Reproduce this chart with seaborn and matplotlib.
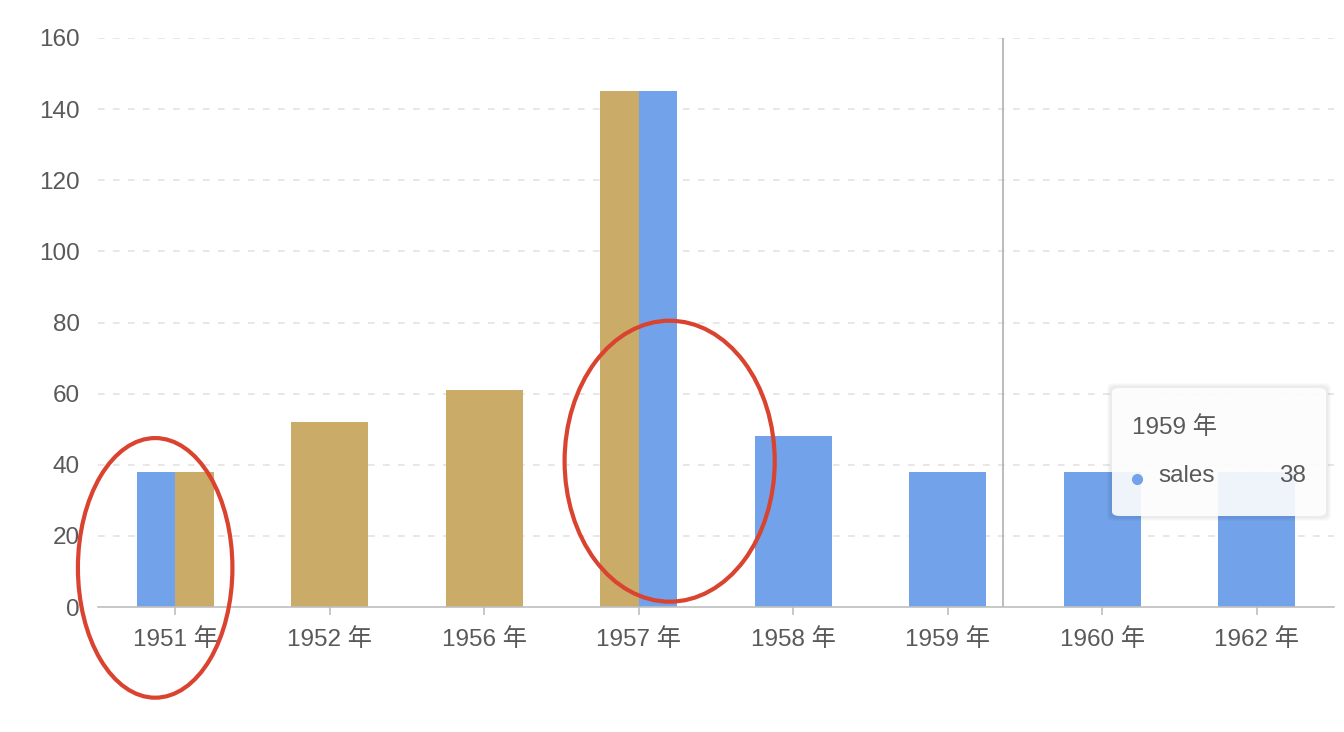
import numpy as np
import pandas as pd
import seaborn as sns
import matplotlib.pyplot as plt
from matplotlib.patches import Ellipse, FancyBboxPatch
from matplotlib.lines import Line2D

# chart data
years = ["1951 年", "1952 年", "1956 年", "1957 年", "1958 年", "1959 年", "1960 年", "1962 年"]
sales = [38, np.nan, np.nan, 145, 48, 38, 38, 38]
other = [38, 52, 61, 145, np.nan, np.nan, np.nan, np.nan]
series_names = ["sales", "other"]
colors = {"sales": "#72A2EA", "other": "#CAAC68"}

# years where both series show up are split (note the swapped order)
split_orders = {"1951 年": ["sales", "other"], "1957 年": ["other", "sales"]}
tooltip_idx = 5
cursor_x = 5.36

df = pd.DataFrame({"year": years * 2,
                   "series": ["sales"] * len(years) + ["other"] * len(years),
                   "value": sales + other}).dropna()

sns.set_theme(style="white")
plt.rcParams["font.family"] = ["Liberation Sans", "Noto Sans CJK SC", "DejaVu Sans"]
text_col = "#595959"
line_col = "#BFBFBF"

fig = plt.figure(figsize=(13.44, 7.32), dpi=100)
ax = fig.add_axes([98 / 1344, 125 / 732, 1236 / 1344, 569 / 732])

single = df[~df["year"].isin(split_orders.keys())]
sns.barplot(data=single, x="year", y="value", hue="series", order=years,
            hue_order=series_names, palette=colors, dodge=False, width=0.5,
            saturation=1, legend=False, linewidth=0, ax=ax)
for yr, h_order in split_orders.items():
    sns.barplot(data=df[df["year"] == yr], x="year", y="value", hue="series",
                order=years, hue_order=h_order, palette=colors, dodge=True,
                width=0.5, saturation=1, legend=False, linewidth=0, ax=ax)

ax.set_xlim(-0.5, len(years) - 0.5)
ax.set_ylim(0, 160)
ax.set_yticks(range(0, 161, 20))
ax.set_xlabel("")
ax.set_ylabel("")
ax.set_axisbelow(True)
ax.yaxis.grid(True, linestyle=(0, (4, 5)), color="#E3E3E3", linewidth=1.2)
ax.xaxis.grid(False)
for s in ["top", "right", "left"]:
    ax.spines[s].set_visible(False)
ax.spines["bottom"].set_color(line_col)
ax.spines["bottom"].set_linewidth(1.2)
ax.tick_params(axis="x", length=6, width=1.2, color=line_col, pad=9,
               labelsize=17.5, labelcolor=text_col, bottom=True)
ax.tick_params(axis="y", length=0, pad=13, labelsize=17.5, labelcolor=text_col)

# hover crosshair
ax.axvline(cursor_x, color="#B0B0B0", linewidth=1.2, zorder=1)

# red hand-drawn highlights
ax.add_patch(Ellipse((-0.13, 11), 1.0, 73, fill=False, edgecolor="#D9432F",
                     linewidth=3, clip_on=False, zorder=6))
ax.add_patch(Ellipse((3.2, 41), 1.36, 79, fill=False, edgecolor="#D9432F",
                     linewidth=3, clip_on=False, zorder=6))

# tooltip
W, H = 1344, 732
x0, y0, w, h = 1112, 388, 214, 128
for k in range(4):
    fig.patches.append(FancyBboxPatch(((x0 - 2 - k) / W, 1 - (y0 + h + 2 + k) / H),
                                      (w + 4 + 2 * k) / W, (h + 4 + 2 * k) / H,
                                      boxstyle="round,pad=0,rounding_size=0.006",
                                      transform=fig.transFigure, facecolor="#000000",
                                      edgecolor="none", alpha=0.02, zorder=7))
fig.patches.append(FancyBboxPatch((x0 / W, 1 - (y0 + h) / H), w / W, h / H,
                                  boxstyle="round,pad=0,rounding_size=0.006",
                                  transform=fig.transFigure, facecolor="white",
                                  edgecolor="none", alpha=0.9, zorder=8))
fig.text(1132 / W, 1 - 428 / H, years[tooltip_idx], fontsize=17.5, color=text_col,
         va="center", ha="left", zorder=9)
fig.add_artist(Line2D([1137 / W], [1 - 479 / H], marker="o", markersize=7,
                      color=colors["sales"], linestyle="none",
                      transform=fig.transFigure, zorder=9))
fig.text(1158 / W, 1 - 476 / H, "sales", fontsize=17.5, color=text_col,
         va="center", ha="left", zorder=9)
fig.text(1306 / W, 1 - 476 / H, f"{sales[tooltip_idx]:g}", fontsize=17.5,
         color=text_col, va="center", ha="right", zorder=9)

fig.savefig("out.png", dpi=100)
